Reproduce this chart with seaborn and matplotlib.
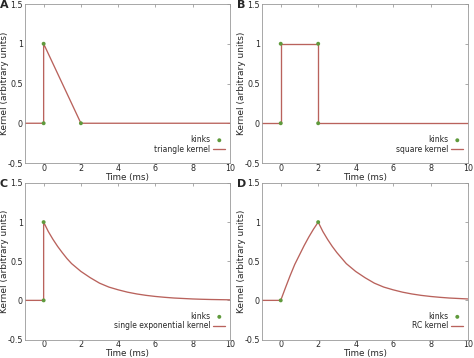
import numpy as np
import pandas as pd
import matplotlib
matplotlib.use("Agg")
import matplotlib.pyplot as plt
import seaborn as sns

# ---------------------------
# data
# ---------------------------

# A: triangle kernel
tri_t = [-1, 0, 0, 2, 10]
tri_k = [0, 0, 1, 0, 0]
tri_kink_t = [0, 0, 2]
tri_kink_k = [0, 1, 0]

# B: square kernel
sq_t = [-1, 0, 0, 2, 2, 10]
sq_k = [0, 0, 1, 1, 0, 0]
sq_kink_t = [0, 0, 2, 2]
sq_kink_k = [0, 1, 1, 0]

# C: single exponential kernel
exp_t = [-1, 0, 0, 0.25, 0.5, 0.75, 1, 1.25, 1.5, 2, 2.5, 3, 3.5, 4, 4.5,
         5, 5.5, 6, 6.5, 7, 7.5, 8, 8.5, 9, 9.5, 10]
exp_k = [0, 0, 1, 0.88, 0.78, 0.69, 0.61, 0.535, 0.47, 0.37, 0.29, 0.22,
         0.17, 0.135, 0.105, 0.082, 0.064, 0.05, 0.039, 0.030, 0.024,
         0.018, 0.014, 0.011, 0.009, 0.007]
exp_kink_t = [0, 0]
exp_kink_k = [0, 1]

# D: RC kernel
rc_t = [-1, 0, 0.25, 0.5, 0.75, 1, 1.25, 1.5, 1.75, 2, 2.25, 2.5, 2.75, 3,
        3.5, 4, 4.5, 5, 5.5, 6, 6.5, 7, 7.5, 8, 8.5, 9, 9.5, 10]
rc_k = [0, 0, 0.16, 0.315, 0.46, 0.58, 0.70, 0.81, 0.91, 1, 0.88, 0.78,
        0.69, 0.61, 0.47, 0.37, 0.29, 0.22, 0.17, 0.135, 0.105, 0.082,
        0.064, 0.05, 0.039, 0.030, 0.024, 0.018]
rc_kink_t = [0, 2]
rc_kink_k = [0, 1]

panels = [
    ("A", "triangle kernel", tri_t, tri_k, tri_kink_t, tri_kink_k),
    ("B", "square kernel", sq_t, sq_k, sq_kink_t, sq_kink_k),
    ("C", "single exponential kernel", exp_t, exp_k, exp_kink_t, exp_kink_k),
    ("D", "RC kernel", rc_t, rc_k, rc_kink_t, rc_kink_k),
]

x_ticks = [0, 2, 4, 6, 8, 10]
y_ticks = [-0.5, 0, 0.5, 1, 1.5]
y_tick_labels = ["-0.5", "0", "0.5", "1", "1.5"]

line_color = "#b9625c"
kink_color = "#5f9a3c"

# ---------------------------
# plotting
# ---------------------------

sns.set_style("white")
plt.rcParams["font.family"] = ["DejaVu Sans"]

W, H = 474, 358
fig = plt.figure(figsize=(W / 100, H / 100), dpi=100)

# axes boxes in pixels: (left, top, right, bottom, xlabel centre y)
boxes = [
    (25, 4, 230, 163, 177),
    (262, 4, 468, 163, 177),
    (25, 183, 230, 339.5, 353.5),
    (262, 183, 468, 339.5, 353.5),
]

for (label, name, t, k, kt, kk), (l, tp, r, b, xl_y) in zip(panels, boxes):
    ax = fig.add_axes([l / W, 1 - b / H, (r - l) / W, (b - tp) / H])
    line_df = pd.DataFrame({"t": t, "k": k})
    kink_df = pd.DataFrame({"t": kt, "k": kk})

    sns.lineplot(data=line_df, x="t", y="k", sort=False, estimator=None,
                 color=line_color, linewidth=0.95, ax=ax, label=name)
    sns.scatterplot(data=kink_df, x="t", y="k", color=kink_color, s=8,
                    edgecolor="none", ax=ax, label="kinks", zorder=3)

    ax.set_xlim(-1, 10)
    ax.set_ylim(-0.5, 1.5)
    ax.set_xticks(x_ticks)
    ax.set_xticklabels([str(v) for v in x_ticks])
    ax.set_yticks(y_ticks)
    ax.set_yticklabels(y_tick_labels)
    ax.tick_params(direction="in", length=2.5, width=0.5, labelsize=5.8,
                   top=True, right=True, pad=1.5, color="#888888")
    ax.tick_params(axis="x", pad=0.6)
    ax.set_xlabel("Time (ms)", fontsize=6.3, va="center")
    ax.xaxis.set_label_coords(0.5, -(xl_y - b) / (b - tp))
    ax.set_ylabel("Kernel (arbitrary units)", fontsize=6.5, va="center")
    ax.yaxis.set_label_coords(-20 / (r - l), 0.5)
    for sp in ax.spines.values():
        sp.set_color("#999999")
        sp.set_linewidth(0.6)

    handles, labels = ax.get_legend_handles_labels()
    order = [labels.index("kinks"), labels.index(name)]
    ax.legend([handles[i] for i in order], [labels[i] for i in order],
              loc="lower right", bbox_to_anchor=(1.0, 0.03), frameon=False,
              markerfirst=False, fontsize=5.5, handlelength=1.6,
              handletextpad=0.4, labelspacing=0.05, borderaxespad=0.2)

    fig.text((l - 25) / W, 1 - (tp + 1) / H, label, fontsize=8,
             fontweight="bold", ha="left", va="center")

fig.savefig("out.png", dpi=100)
